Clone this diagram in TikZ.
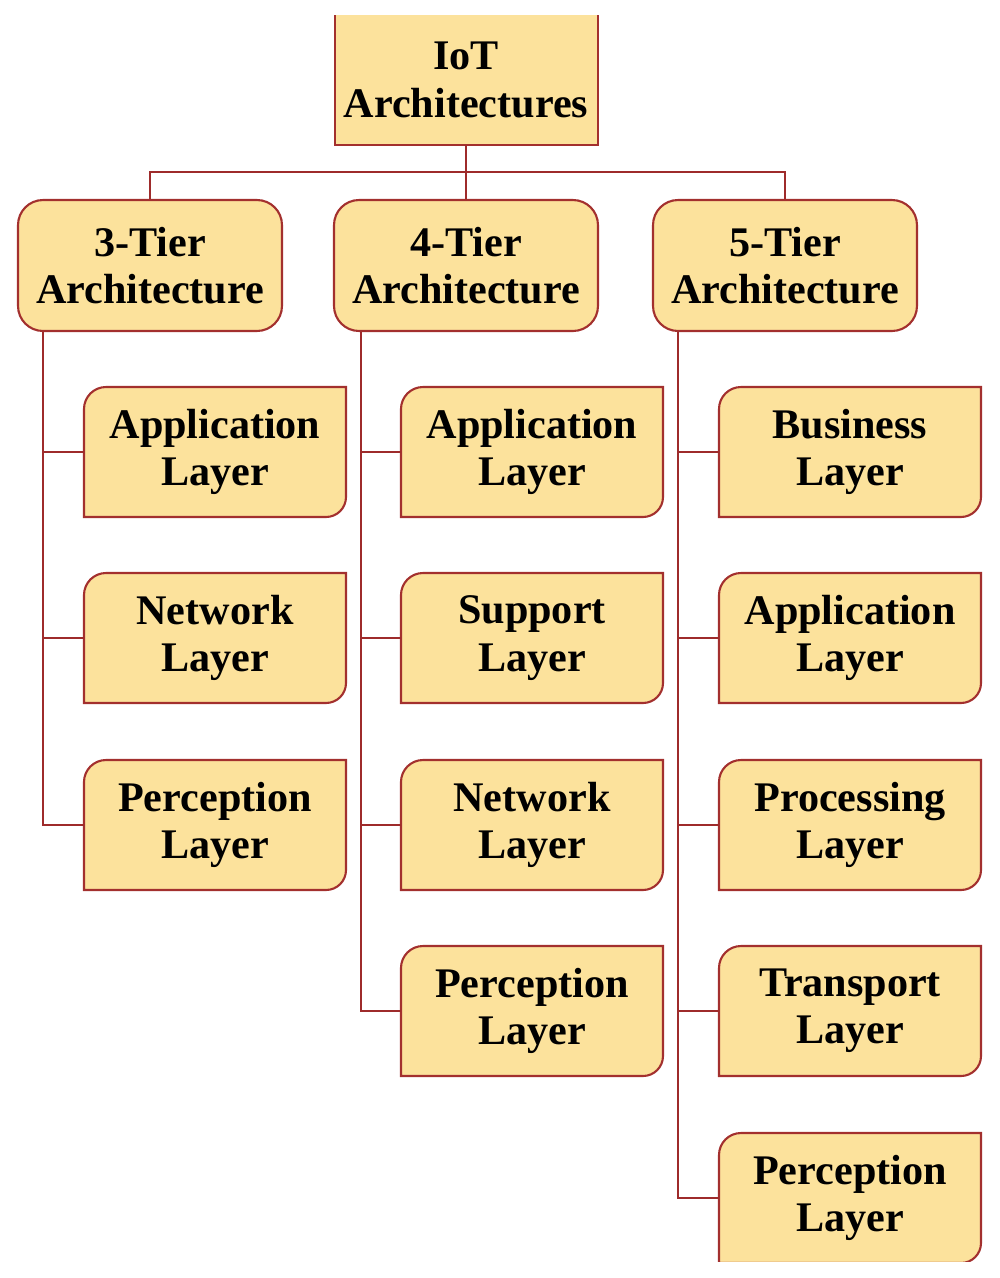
\documentclass[tikz,border=0pt]{standalone}
\usepackage{fontspec}
\setmainfont{Liberation Serif}
\definecolor{boxfill}{HTML}{FCE29C}
\definecolor{boxline}{HTML}{A3302E}
\definecolor{connc}{HTML}{9E2B2B}
\tikzset{
 lbl/.style={align=center, font=\fontsize{24}{27}\selectfont\bfseries, text=black, inner sep=0pt, minimum width=5.24cm, minimum height=2.6cm},
 tierbox/.style={lbl, draw=boxline, fill=boxfill, line width=1.2pt, rounded corners=0.5cm, minimum width=5.28cm, minimum height=2.62cm},
 shapeline/.style={draw=boxline, fill=boxfill, line width=1.2pt},
 connline/.style={draw=connc, line width=1.1pt},
}
\newcommand\layerbox[4]{%
 \path[shapeline] (#2-131,#3+65) -- (#2-131,#3-43) arc[start angle=180,end angle=90,radius=0.44cm] -- (#2+131,#3-65) -- (#2+131,#3+45) arc[start angle=0,end angle=-90,radius=0.4cm] -- cycle;
 \node[lbl] (#1) at (#2,#3) {#4};
}
\begin{document}
\begin{tikzpicture}[x=0.02cm,y=-0.02cm]
\useasboundingbox (0,0) rectangle (1000,1278);
\begin{scope}
\clip (0,0) rectangle (1000,1261);
% root
\fill[boxfill] (335,15) rectangle (598,145);
\draw[boxline, line width=1.2pt] (335,15) -- (335,145) -- (598,145) -- (598,15);
\node[lbl, minimum width=5.26cm] (root) at (466,80) {IoT\\Architectures};
% tiers
\node[tierbox] (t3) at (150,265.5) {3-Tier\\Architecture};
\node[tierbox] (t4) at (466,265.5) {4-Tier\\Architecture};
\node[tierbox] (t5) at (785,265.5) {5-Tier\\Architecture};
% layers col 1
\layerbox{a1}{215}{452}{Application\\Layer}
\layerbox{a2}{215}{638}{Network\\Layer}
\layerbox{a3}{215}{825}{Perception\\Layer}
% col 2
\layerbox{b1}{532}{452}{Application\\Layer}
\layerbox{b2}{532}{638}{Support\\Layer}
\layerbox{b3}{532}{825}{Network\\Layer}
\layerbox{b4}{532}{1011}{Perception\\Layer}
% col 3
\layerbox{c1}{850}{452}{Business\\Layer}
\layerbox{c2}{850}{638}{Application\\Layer}
\layerbox{c3}{850}{825}{Processing\\Layer}
\layerbox{c4}{850}{1011}{Transport\\Layer}
\layerbox{c5}{850}{1198}{Perception\\Layer}
% connectors
\draw[connline] (root.south) -- (t4.north);
\draw[connline] (t3.north) -- ++(0,-27) -| (t5.north);
\coordinate (v3) at ([xshift=0.52cm]t3.south west);
\coordinate (v4) at ([xshift=0.56cm]t4.south west);
\coordinate (v5) at ([xshift=0.52cm]t5.south west);
\draw[connline] (v3) |- (a3.west);
\draw[connline] (a1.west) -- (a1.west -| v3);
\draw[connline] (a2.west) -- (a2.west -| v3);
\draw[connline] (v4) |- (b4.west);
\draw[connline] (b1.west) -- (b1.west -| v4);
\draw[connline] (b2.west) -- (b2.west -| v4);
\draw[connline] (b3.west) -- (b3.west -| v4);
\draw[connline] (v5) |- (c5.west);
\draw[connline] (c1.west) -- (c1.west -| v5);
\draw[connline] (c2.west) -- (c2.west -| v5);
\draw[connline] (c3.west) -- (c3.west -| v5);
\draw[connline] (c4.west) -- (c4.west -| v5);
\end{scope}
\end{tikzpicture}
\end{document}
